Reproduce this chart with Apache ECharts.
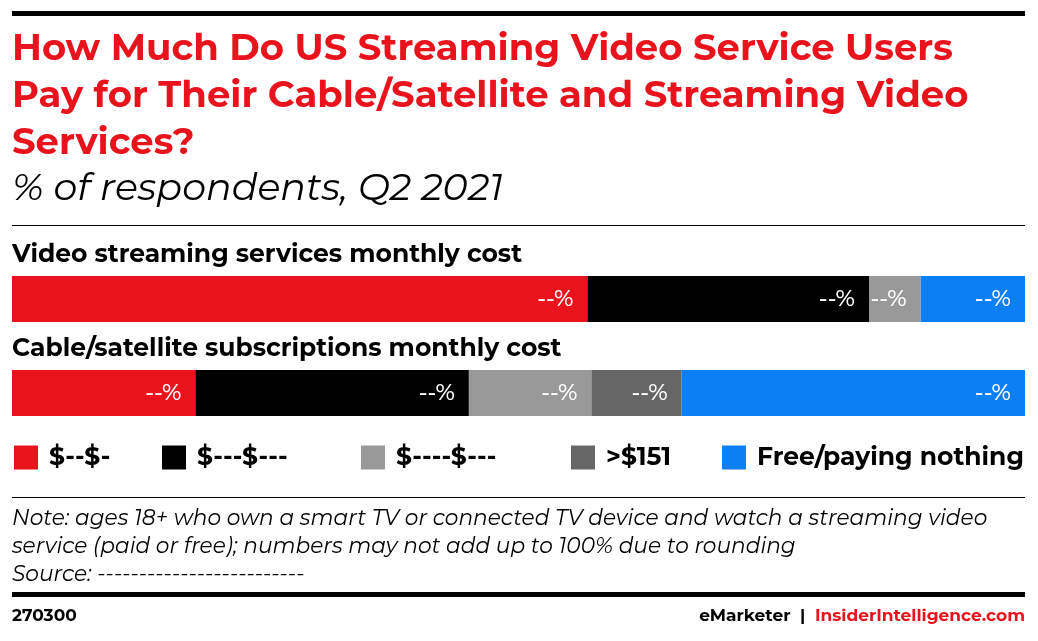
<!DOCTYPE html>
<html><head><meta charset="utf-8">
<script src="https://cdn.jsdelivr.net/npm/echarts@6/dist/echarts.min.js"></script>
<style>html,body{margin:0;background:#fff}#c{width:1038px;height:641px}</style>
</head><body><div id="c"></div>
<script>
var rows = ["Video streaming services monthly cost", "Cable/satellite subscriptions monthly cost"];
var seriesNames = ["$--$-", "$---$---", "$----$---", ">$151", "Free/paying nothing"];
var seriesColors = ["#e8131c", "#000000", "#999999", "#666666", "#0b7ff5"];
var values = [
    [56.8, 18.1],
    [27.8, 27.0],
    [5.1, 12.1],
    [0, 8.9],
    [10.3, 34.0]
];
var legendLeft = [9, 157, 356, 566, 717];
var font = "Montserrat, 'Open Sans', sans-serif";

var series = [];
var legends = [];
for (var i = 0; i < seriesNames.length; i++) {
    series.push({
        name: seriesNames[i],
        type: "bar",
        stack: "all",
        barWidth: 46,
        itemStyle: { color: seriesColors[i] },
        label: {
            show: true, position: "insideRight", color: "#fff", fontSize: 23, fontWeight: 500, fontFamily: font, distance: 14,
            formatter: function (p) { return p.value ? "--%" : ""; }
        },
        data: values[i]
    });
    legends.push({
        data: [seriesNames[i]], left: legendLeft[i], top: 440, itemWidth: 24, itemHeight: 24, itemGap: 0,
        icon: "rect", selectedMode: false,
        textStyle: { fontSize: 25, fontWeight: "bold", fontFamily: font, color: "#000", padding: [0, 0, 0, 6] }
    });
}

var chart = echarts.init(document.getElementById("c"));
var option = {
    animation: false,
    grid: { left: 12, right: 13, top: 252, height: 188 },
    xAxis: { type: "value", min: 0, max: 100, show: false },
    yAxis: { type: "category", data: rows, inverse: true, show: false },
    legend: legends,
    series: series,
    graphic: [
        { type: "rect", shape: { x: 12, y: 11, width: 1013, height: 5 }, style: { fill: "#000" } },
        { type: "text", left: 12, top: 26, style: { text: "How Much Do US Streaming Video Service Users\nPay for Their Cable/Satellite and Streaming Video\nServices?", fill: "#e8131c", font: "bold 37px " + font, lineHeight: 47 } },
        { type: "text", left: 12, top: 170, style: { text: "% of respondents, Q2 2021", fill: "#000", font: "italic 38px " + font } },
        { type: "rect", shape: { x: 12, y: 225, width: 1013, height: 1 }, style: { fill: "#000" } },
        { type: "text", left: 12, top: 242, style: { text: rows[0], fill: "#000", font: "bold 25px " + font } },
        { type: "text", left: 12, top: 336, style: { text: rows[1], fill: "#000", font: "bold 25px " + font } },
        { type: "rect", shape: { x: 12, y: 497, width: 1013, height: 1 }, style: { fill: "#000" } },
        { type: "text", left: 12, top: 505, style: { text: "Note: ages 18+ who own a smart TV or connected TV device and watch a streaming video\nservice (paid or free); numbers may not add up to 100% due to rounding\nSource: -------------------------", fill: "#000", font: "italic 21.7px " + font, lineHeight: 28 } },
        { type: "rect", shape: { x: 12, y: 592, width: 1013, height: 5 }, style: { fill: "#000" } },
        { type: "text", left: 12, top: 607, style: { text: "270300", fill: "#000", font: "bold 17px " + font } },
        { type: "text", right: 13, top: 607, style: { text: "{a|eMarketer  |  }{b|InsiderIntelligence.com}", rich: { a: { fill: "#000", font: "bold 17px " + font }, b: { fill: "#e8131c", font: "bold 17px " + font } } } }
    ]
};
chart.setOption(option);
</script></body></html>
